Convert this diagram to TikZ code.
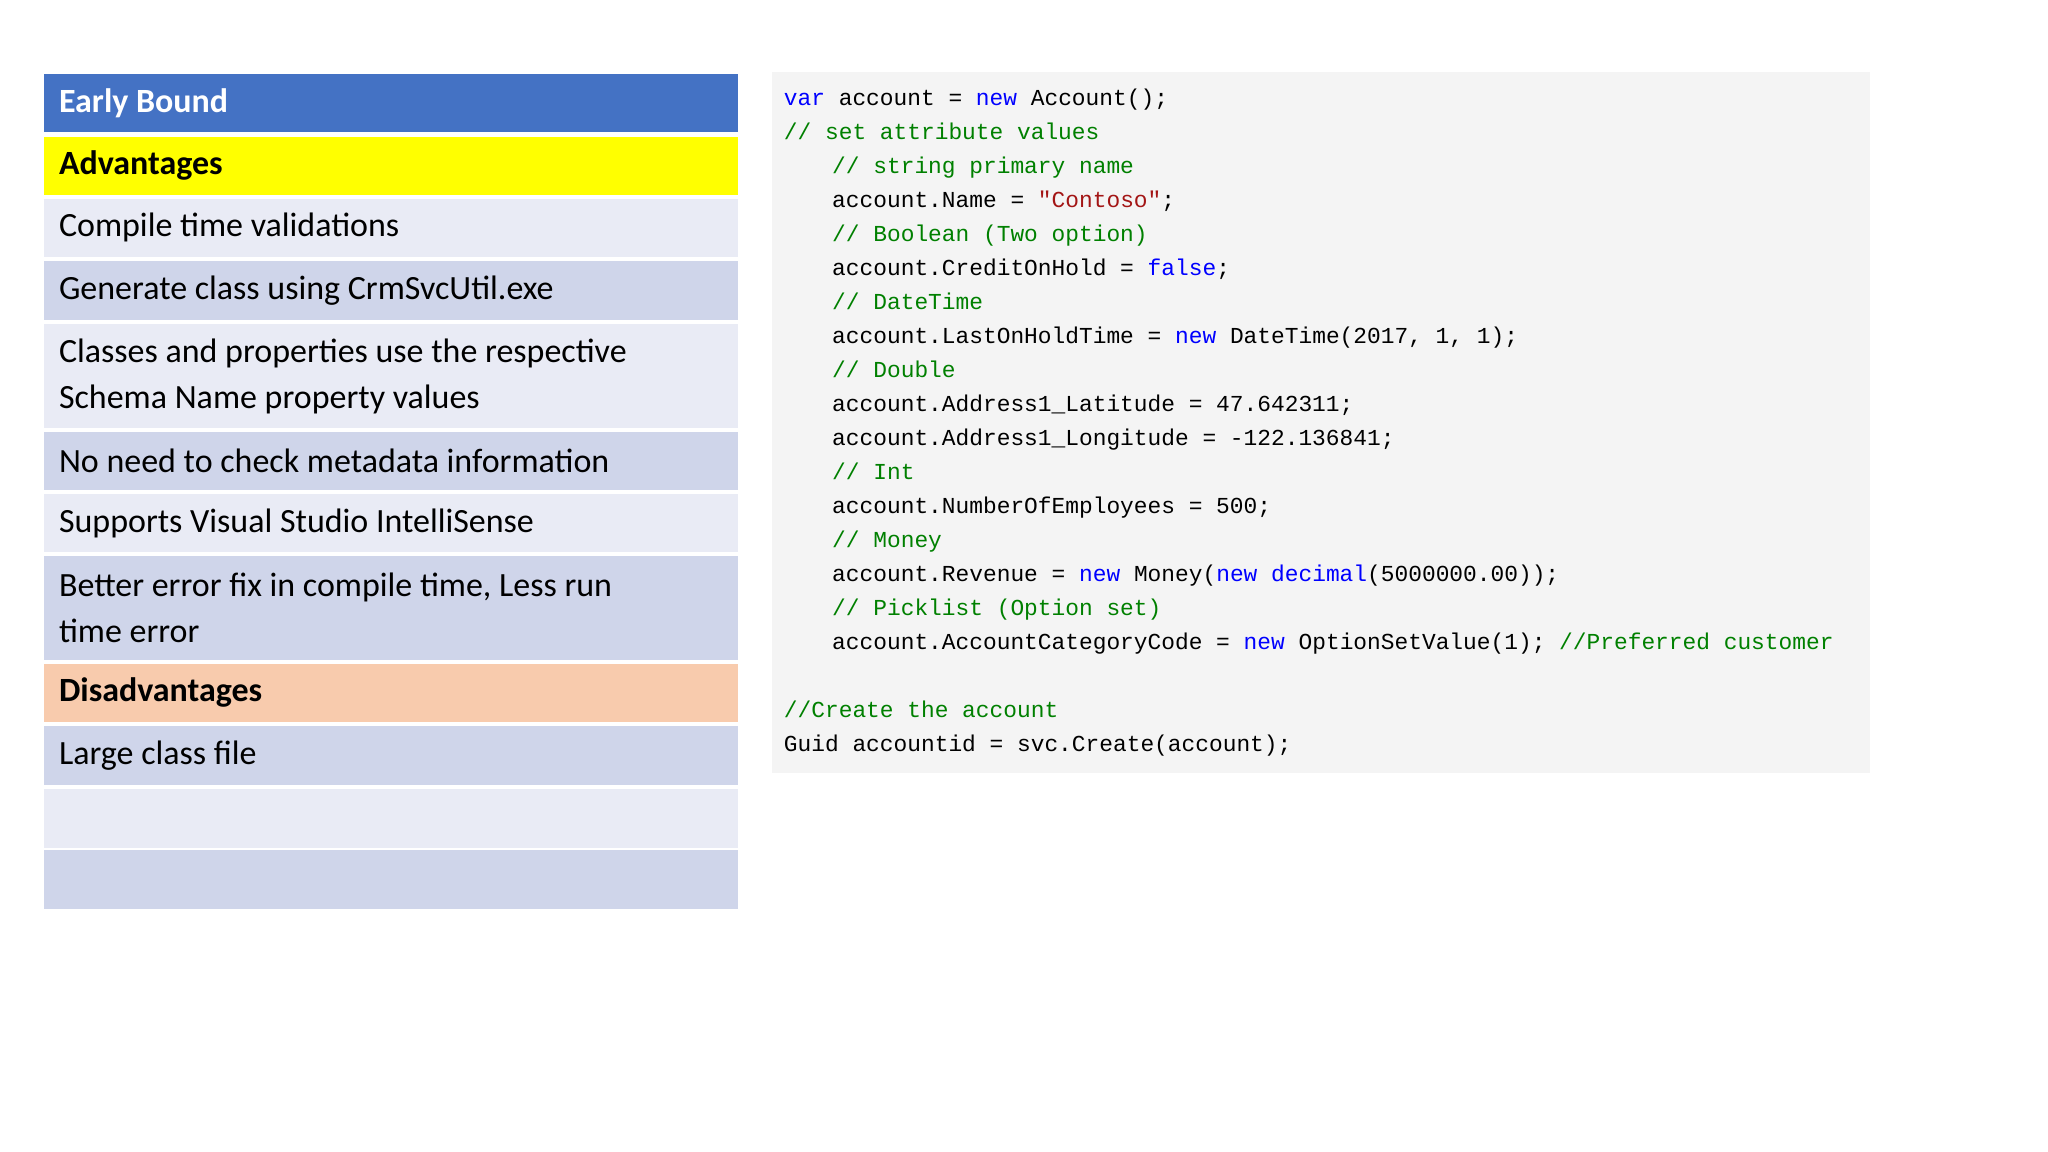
\documentclass[tikz,border=0pt]{standalone}
\usepackage{fontspec}
\setmainfont{Carlito}
\setmonofont{Liberation Mono}
\definecolor{hdr}{HTML}{4472C4}
\definecolor{yel}{HTML}{FFFF00}
\definecolor{dis}{HTML}{F8CBAD}
\definecolor{rowa}{HTML}{E9EBF5}
\definecolor{rowb}{HTML}{CFD5EA}
\definecolor{codebg}{HTML}{F4F4F4}
\definecolor{kw}{HTML}{0000FF}
\definecolor{cm}{HTML}{008000}
\definecolor{st}{HTML}{A31515}
\newcommand{\K}[1]{\textcolor{kw}{#1}}
\newcommand{\C}[1]{\textcolor{cm}{#1}}
\newcommand{\Sx}[1]{\textcolor{st}{#1}}
\begin{document}
\begin{tikzpicture}[x=1pt,y=-1pt,
  cell/.style={inner sep=0pt},
  lbl/.style={anchor=west,font=\fontsize{26}{35}\selectfont,align=left,inner sep=0pt},
  code/.style={anchor=base west,font=\ttfamily\fontsize{17.5}{20}\selectfont,inner sep=0pt}]
\useasboundingbox[fill=white] (0,0) rectangle (1568,882);
% table rows: y1 y2 color text
\foreach \n/\a/\b/\c/\t in {
 r1/57/101/hdr/{\color{white}\bfseries Early Bound},
 r2/105/149/yel/{\bfseries Advantages},
 r3/152/197/rowa/{Compile time validations},
 r4/200/245/rowb/{Generate class using CrmSvcUtil.exe},
 r5/248/328/rowa/{Classes and properties use the respective\\Schema Name property values},
 r6/331/375/rowb/{No need to check metadata information},
 r7/378/423/rowa/{Supports Visual Studio IntelliSense},
 r8/426/505/rowb/{Better error fix in compile time, Less run\\time error},
 r9/508/553/dis/{\bfseries Disadvantages},
 r10/556/601/rowb/{Large class file},
 r11/604/649/rowa/{},
 r12/651/696/rowb/{}}{
 \fill[\c] (34,\a) rectangle (565,\b);
 \node[lbl] (\n) at (45,{(\a+\b)/2}) {\t};
}
\fill[codebg] (591,55) rectangle (1432,592);
\foreach \i/\t in {
 0/{\K{var} account = \K{new} Account();},
 1/{\C{// set attribute values}},
 2/{\hspace*{4ex}\C{// string primary name}},
 3/{\hspace*{4ex}account.Name = \Sx{"Contoso"};},
 4/{\hspace*{4ex}\C{// Boolean (Two option)}},
 5/{\hspace*{4ex}account.CreditOnHold = \K{false};},
 6/{\hspace*{4ex}\C{// DateTime}},
 7/{\hspace*{4ex}account.LastOnHoldTime = \K{new} DateTime(2017, 1, 1);},
 8/{\hspace*{4ex}\C{// Double}},
 9/{\hspace*{4ex}account.Address1\_Latitude = 47.642311;},
 10/{\hspace*{4ex}account.Address1\_Longitude = -122.136841;},
 11/{\hspace*{4ex}\C{// Int}},
 12/{\hspace*{4ex}account.NumberOfEmployees = 500;},
 13/{\hspace*{4ex}\C{// Money}},
 14/{\hspace*{4ex}account.Revenue = \K{new} Money(\K{new} \K{decimal}(5000000.00));},
 15/{\hspace*{4ex}\C{// Picklist (Option set)}},
 16/{\hspace*{4ex}account.AccountCategoryCode = \K{new} OptionSetValue(1); \C{//Preferred customer}},
 18/{\C{//Create the account}},
 19/{Guid accountid = svc.Create(account);}}{
 \node[code] (c\i) at (600,{81+26*\i}) {\t};
}
\end{tikzpicture}
\end{document}
